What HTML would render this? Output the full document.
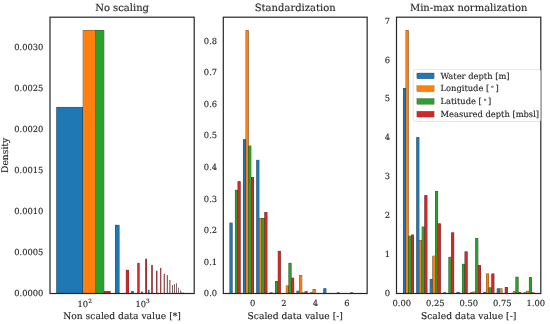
<!DOCTYPE html>
<html><head><meta charset="utf-8"><title>Scaling histograms</title>
<style>
html,body{margin:0;padding:0;background:#fff;}
body{width:550px;height:324px;overflow:hidden;}
svg{display:block;}
text{font-family:"DejaVu Serif","Liberation Serif",serif;fill:#262626;text-rendering:geometricPrecision;stroke:#262626;stroke-width:0.14px;}
</style></head><body>
<svg width="550" height="324" viewBox="0 0 550 324">
<rect width="550" height="324" fill="#fff"/>
<g shape-rendering="geometricPrecision">
<rect x="56.38" y="106.97" width="26.65" height="186.53" fill="#2a2a2a"/>
<rect x="56.62" y="107.22" width="26.15" height="186.28" fill="#1f77b4"/>
<rect x="114.99" y="224.88" width="4.42" height="68.62" fill="#2a2a2a"/>
<rect x="115.24" y="225.12" width="3.92" height="68.38" fill="#1f77b4"/>
<rect x="131.15" y="291.18" width="2.53" height="2.32" fill="#2a2a2a"/>
<rect x="131.40" y="291.43" width="2.03" height="2.07" fill="#1f77b4"/>
<rect x="140.92" y="291.68" width="1.82" height="1.82" fill="#2a2a2a"/>
<rect x="141.17" y="291.93" width="1.32" height="1.57" fill="#1f77b4"/>
<rect x="147.93" y="289.88" width="1.45" height="3.62" fill="#2a2a2a"/>
<rect x="148.18" y="290.12" width="0.95" height="3.38" fill="#1f77b4"/>
<rect x="153.41" y="292.88" width="1.22" height="0.62" fill="#2a2a2a"/>
<rect x="153.66" y="293.12" width="0.72" height="0.38" fill="#1f77b4"/>
<rect x="157.90" y="292.98" width="1.06" height="0.52" fill="#2a2a2a"/>
<rect x="158.15" y="293.23" width="0.56" height="0.27" fill="#1f77b4"/>
<rect x="82.78" y="30.18" width="13.20" height="263.32" fill="#2a2a2a"/>
<rect x="83.03" y="30.43" width="12.70" height="263.07" fill="#ff7f0e"/>
<rect x="95.72" y="30.18" width="8.50" height="263.32" fill="#2a2a2a"/>
<rect x="95.97" y="30.43" width="8.00" height="263.07" fill="#2ca02c"/>
<rect x="103.97" y="291.18" width="6.55" height="2.32" fill="#2a2a2a"/>
<rect x="104.22" y="291.43" width="6.05" height="2.07" fill="#d62728"/>
<rect x="125.86" y="269.88" width="3.03" height="23.62" fill="#2a2a2a"/>
<rect x="126.11" y="270.12" width="2.53" height="23.38" fill="#d62728"/>
<rect x="137.45" y="262.88" width="2.04" height="30.62" fill="#2a2a2a"/>
<rect x="137.70" y="263.12" width="1.54" height="30.38" fill="#d62728"/>
<rect x="145.35" y="258.77" width="1.57" height="34.73" fill="#2a2a2a"/>
<rect x="145.60" y="259.02" width="1.07" height="34.48" fill="#d62728"/>
<rect x="151.36" y="264.98" width="1.30" height="28.52" fill="#2a2a2a"/>
<rect x="151.61" y="265.23" width="0.80" height="28.27" fill="#d62728"/>
<rect x="156.20" y="270.68" width="1.12" height="22.82" fill="#2a2a2a"/>
<rect x="156.45" y="270.93" width="0.62" height="22.57" fill="#d62728"/>
<rect x="160.26" y="267.88" width="0.99" height="25.62" fill="#2a2a2a"/>
<rect x="160.51" y="268.12" width="0.49" height="25.38" fill="#d62728"/>
<rect x="163.75" y="273.77" width="0.89" height="19.73" fill="#2a2a2a"/>
<rect x="164.00" y="274.02" width="0.39" height="19.48" fill="#d62728"/>
<rect x="166.82" y="275.07" width="0.82" height="18.43" fill="#2a2a2a"/>
<rect x="167.07" y="275.32" width="0.32" height="18.18" fill="#d62728"/>
<rect x="169.55" y="279.98" width="0.76" height="13.52" fill="#2a2a2a"/>
<rect x="169.80" y="280.23" width="0.26" height="13.27" fill="#d62728"/>
<rect x="172.02" y="285.07" width="0.72" height="8.43" fill="#2a2a2a"/>
<rect x="172.27" y="285.32" width="0.22" height="8.18" fill="#d62728"/>
<rect x="174.26" y="284.18" width="0.68" height="9.32" fill="#2a2a2a"/>
<rect x="174.51" y="284.43" width="0.18" height="9.07" fill="#d62728"/>
<rect x="176.32" y="283.18" width="0.64" height="10.32" fill="#2a2a2a"/>
<rect x="176.57" y="283.43" width="0.14" height="10.07" fill="#d62728"/>
<rect x="178.23" y="287.68" width="0.61" height="5.82" fill="#2a2a2a"/>
<rect x="178.48" y="287.93" width="0.11" height="5.57" fill="#d62728"/>
<rect x="180.00" y="290.27" width="0.59" height="3.23" fill="#2a2a2a"/>
<rect x="180.25" y="290.52" width="0.09" height="2.98" fill="#d62728"/>
<rect x="181.65" y="291.88" width="0.57" height="1.62" fill="#2a2a2a"/>
<rect x="181.90" y="292.12" width="0.07" height="1.38" fill="#d62728"/>
<rect x="183.20" y="292.68" width="0.55" height="0.82" fill="#2a2a2a"/>
<rect x="184.67" y="292.98" width="0.53" height="0.52" fill="#2a2a2a"/>
<rect x="229.58" y="222.68" width="2.93" height="70.82" fill="#2a2a2a"/>
<rect x="229.83" y="222.93" width="2.43" height="70.57" fill="#1f77b4"/>
<rect x="242.98" y="139.38" width="2.93" height="154.12" fill="#2a2a2a"/>
<rect x="243.23" y="139.62" width="2.43" height="153.88" fill="#1f77b4"/>
<rect x="256.38" y="159.88" width="2.93" height="133.62" fill="#2a2a2a"/>
<rect x="256.62" y="160.12" width="2.43" height="133.38" fill="#1f77b4"/>
<rect x="269.77" y="292.48" width="2.93" height="1.02" fill="#2a2a2a"/>
<rect x="270.02" y="292.73" width="2.43" height="0.77" fill="#1f77b4"/>
<rect x="296.57" y="290.77" width="2.93" height="2.73" fill="#2a2a2a"/>
<rect x="296.82" y="291.02" width="2.43" height="2.48" fill="#1f77b4"/>
<rect x="309.97" y="292.48" width="2.93" height="1.02" fill="#2a2a2a"/>
<rect x="310.22" y="292.73" width="2.43" height="0.77" fill="#1f77b4"/>
<rect x="323.38" y="288.38" width="2.93" height="5.12" fill="#2a2a2a"/>
<rect x="323.62" y="288.62" width="2.43" height="4.88" fill="#1f77b4"/>
<rect x="336.77" y="292.48" width="2.93" height="1.02" fill="#2a2a2a"/>
<rect x="337.02" y="292.73" width="2.43" height="0.77" fill="#1f77b4"/>
<rect x="350.18" y="292.48" width="2.93" height="1.02" fill="#2a2a2a"/>
<rect x="350.43" y="292.73" width="2.43" height="0.77" fill="#1f77b4"/>
<rect x="245.66" y="30.18" width="2.93" height="263.32" fill="#2a2a2a"/>
<rect x="245.91" y="30.43" width="2.43" height="263.07" fill="#ff7f0e"/>
<rect x="259.06" y="217.97" width="2.93" height="75.53" fill="#2a2a2a"/>
<rect x="259.31" y="218.22" width="2.43" height="75.28" fill="#ff7f0e"/>
<rect x="285.86" y="285.57" width="2.93" height="7.93" fill="#2a2a2a"/>
<rect x="286.11" y="285.82" width="2.43" height="7.68" fill="#ff7f0e"/>
<rect x="299.25" y="274.98" width="2.93" height="18.52" fill="#2a2a2a"/>
<rect x="299.50" y="275.23" width="2.43" height="18.27" fill="#ff7f0e"/>
<rect x="312.65" y="289.07" width="2.93" height="4.43" fill="#2a2a2a"/>
<rect x="312.90" y="289.32" width="2.43" height="4.18" fill="#ff7f0e"/>
<rect x="234.94" y="189.88" width="2.93" height="103.62" fill="#2a2a2a"/>
<rect x="235.19" y="190.12" width="2.43" height="103.38" fill="#2ca02c"/>
<rect x="248.34" y="145.68" width="2.93" height="147.82" fill="#2a2a2a"/>
<rect x="248.59" y="145.93" width="2.43" height="147.57" fill="#2ca02c"/>
<rect x="261.74" y="217.97" width="2.93" height="75.53" fill="#2a2a2a"/>
<rect x="261.99" y="218.22" width="2.43" height="75.28" fill="#2ca02c"/>
<rect x="275.13" y="281.07" width="2.93" height="12.43" fill="#2a2a2a"/>
<rect x="275.38" y="281.32" width="2.43" height="12.18" fill="#2ca02c"/>
<rect x="288.54" y="262.88" width="2.93" height="30.62" fill="#2a2a2a"/>
<rect x="288.79" y="263.12" width="2.43" height="30.38" fill="#2ca02c"/>
<rect x="301.94" y="292.57" width="2.93" height="0.93" fill="#2a2a2a"/>
<rect x="302.19" y="292.82" width="2.43" height="0.68" fill="#2ca02c"/>
<rect x="237.62" y="181.28" width="2.93" height="112.22" fill="#2a2a2a"/>
<rect x="237.87" y="181.53" width="2.43" height="111.97" fill="#d62728"/>
<rect x="251.02" y="176.97" width="2.93" height="116.53" fill="#2a2a2a"/>
<rect x="251.27" y="177.22" width="2.43" height="116.28" fill="#d62728"/>
<rect x="264.42" y="212.07" width="2.93" height="81.43" fill="#2a2a2a"/>
<rect x="264.67" y="212.32" width="2.43" height="81.18" fill="#d62728"/>
<rect x="277.81" y="250.88" width="2.93" height="42.62" fill="#2a2a2a"/>
<rect x="278.06" y="251.12" width="2.43" height="42.38" fill="#d62728"/>
<rect x="291.22" y="277.77" width="2.93" height="15.73" fill="#2a2a2a"/>
<rect x="291.47" y="278.02" width="2.43" height="15.48" fill="#d62728"/>
<rect x="304.62" y="291.38" width="2.93" height="2.12" fill="#2a2a2a"/>
<rect x="304.87" y="291.62" width="2.43" height="1.88" fill="#d62728"/>
<rect x="402.97" y="87.97" width="2.93" height="205.53" fill="#2a2a2a"/>
<rect x="403.22" y="88.22" width="2.43" height="205.28" fill="#1f77b4"/>
<rect x="416.37" y="137.18" width="2.93" height="156.32" fill="#2a2a2a"/>
<rect x="416.62" y="137.43" width="2.43" height="156.07" fill="#1f77b4"/>
<rect x="429.77" y="279.07" width="2.93" height="14.43" fill="#2a2a2a"/>
<rect x="430.02" y="279.32" width="2.43" height="14.18" fill="#1f77b4"/>
<rect x="443.17" y="292.38" width="2.93" height="1.12" fill="#2a2a2a"/>
<rect x="443.42" y="292.62" width="2.43" height="0.88" fill="#1f77b4"/>
<rect x="456.57" y="291.88" width="2.93" height="1.62" fill="#2a2a2a"/>
<rect x="456.82" y="292.12" width="2.43" height="1.38" fill="#1f77b4"/>
<rect x="469.97" y="292.48" width="2.93" height="1.02" fill="#2a2a2a"/>
<rect x="470.22" y="292.73" width="2.43" height="0.77" fill="#1f77b4"/>
<rect x="483.37" y="291.88" width="2.93" height="1.62" fill="#2a2a2a"/>
<rect x="483.62" y="292.12" width="2.43" height="1.38" fill="#1f77b4"/>
<rect x="496.77" y="288.48" width="2.93" height="5.02" fill="#2a2a2a"/>
<rect x="497.02" y="288.73" width="2.43" height="4.77" fill="#1f77b4"/>
<rect x="523.58" y="292.48" width="2.93" height="1.02" fill="#2a2a2a"/>
<rect x="523.83" y="292.73" width="2.43" height="0.77" fill="#1f77b4"/>
<rect x="405.65" y="30.18" width="2.93" height="263.32" fill="#2a2a2a"/>
<rect x="405.90" y="30.43" width="2.43" height="263.07" fill="#ff7f0e"/>
<rect x="419.05" y="240.28" width="2.93" height="53.22" fill="#2a2a2a"/>
<rect x="419.30" y="240.53" width="2.43" height="52.97" fill="#ff7f0e"/>
<rect x="432.45" y="255.78" width="2.93" height="37.72" fill="#2a2a2a"/>
<rect x="432.70" y="256.02" width="2.43" height="37.47" fill="#ff7f0e"/>
<rect x="472.65" y="291.68" width="2.93" height="1.82" fill="#2a2a2a"/>
<rect x="472.90" y="291.93" width="2.43" height="1.57" fill="#ff7f0e"/>
<rect x="486.05" y="273.57" width="2.93" height="19.93" fill="#2a2a2a"/>
<rect x="486.30" y="273.82" width="2.43" height="19.68" fill="#ff7f0e"/>
<rect x="499.45" y="288.48" width="2.93" height="5.02" fill="#2a2a2a"/>
<rect x="499.70" y="288.73" width="2.43" height="4.77" fill="#ff7f0e"/>
<rect x="512.85" y="291.38" width="2.93" height="2.12" fill="#2a2a2a"/>
<rect x="513.10" y="291.62" width="2.43" height="1.88" fill="#ff7f0e"/>
<rect x="526.25" y="290.88" width="2.93" height="2.62" fill="#2a2a2a"/>
<rect x="526.50" y="291.12" width="2.43" height="2.38" fill="#ff7f0e"/>
<rect x="408.33" y="235.78" width="2.93" height="57.72" fill="#2a2a2a"/>
<rect x="408.58" y="236.03" width="2.43" height="57.47" fill="#2ca02c"/>
<rect x="421.73" y="226.68" width="2.93" height="66.82" fill="#2a2a2a"/>
<rect x="421.98" y="226.93" width="2.43" height="66.57" fill="#2ca02c"/>
<rect x="435.13" y="191.07" width="2.93" height="102.43" fill="#2a2a2a"/>
<rect x="435.38" y="191.32" width="2.43" height="102.18" fill="#2ca02c"/>
<rect x="448.53" y="256.88" width="2.93" height="36.62" fill="#2a2a2a"/>
<rect x="448.78" y="257.12" width="2.43" height="36.38" fill="#2ca02c"/>
<rect x="461.94" y="263.88" width="2.93" height="29.62" fill="#2a2a2a"/>
<rect x="462.19" y="264.12" width="2.43" height="29.38" fill="#2ca02c"/>
<rect x="475.33" y="237.97" width="2.93" height="55.53" fill="#2a2a2a"/>
<rect x="475.58" y="238.22" width="2.43" height="55.28" fill="#2ca02c"/>
<rect x="488.73" y="287.48" width="2.93" height="6.02" fill="#2a2a2a"/>
<rect x="488.98" y="287.73" width="2.43" height="5.77" fill="#2ca02c"/>
<rect x="515.53" y="276.77" width="2.93" height="16.73" fill="#2a2a2a"/>
<rect x="515.78" y="277.02" width="2.43" height="16.48" fill="#2ca02c"/>
<rect x="528.94" y="277.27" width="2.93" height="16.23" fill="#2a2a2a"/>
<rect x="529.19" y="277.52" width="2.43" height="15.98" fill="#2ca02c"/>
<rect x="411.01" y="234.68" width="2.93" height="58.82" fill="#2a2a2a"/>
<rect x="411.26" y="234.93" width="2.43" height="58.57" fill="#d62728"/>
<rect x="424.41" y="195.18" width="2.93" height="98.32" fill="#2a2a2a"/>
<rect x="424.66" y="195.43" width="2.43" height="98.07" fill="#d62728"/>
<rect x="437.81" y="223.47" width="2.93" height="70.03" fill="#2a2a2a"/>
<rect x="438.06" y="223.72" width="2.43" height="69.78" fill="#d62728"/>
<rect x="451.21" y="232.47" width="2.93" height="61.03" fill="#2a2a2a"/>
<rect x="451.46" y="232.72" width="2.43" height="60.78" fill="#d62728"/>
<rect x="464.62" y="251.47" width="2.93" height="42.03" fill="#2a2a2a"/>
<rect x="464.87" y="251.72" width="2.43" height="41.78" fill="#d62728"/>
<rect x="478.01" y="265.18" width="2.93" height="28.32" fill="#2a2a2a"/>
<rect x="478.26" y="265.43" width="2.43" height="28.07" fill="#d62728"/>
<rect x="491.41" y="273.57" width="2.93" height="19.93" fill="#2a2a2a"/>
<rect x="491.66" y="273.82" width="2.43" height="19.68" fill="#d62728"/>
<rect x="504.81" y="286.98" width="2.93" height="6.52" fill="#2a2a2a"/>
<rect x="505.06" y="287.23" width="2.43" height="6.27" fill="#d62728"/>
<rect x="518.21" y="292.18" width="2.93" height="1.32" fill="#2a2a2a"/>
<rect x="518.46" y="292.43" width="2.43" height="1.07" fill="#d62728"/>
<rect x="531.62" y="292.48" width="2.93" height="1.02" fill="#2a2a2a"/>
<rect x="531.87" y="292.73" width="2.43" height="0.77" fill="#d62728"/>
</g>
<g>
<rect x="50.00" y="17.20" width="144.20" height="276.30" fill="none" stroke="#262626" stroke-width="1.2"/>
<rect x="223.30" y="17.20" width="143.85" height="276.30" fill="none" stroke="#262626" stroke-width="1.2"/>
<rect x="396.50" y="17.20" width="144.30" height="276.30" fill="none" stroke="#262626" stroke-width="1.2"/>
</g>
<g>
<rect x="413.3" y="69.6" width="127.3" height="51.8" rx="1.6" fill="#fff" fill-opacity="0.8" stroke="#ccc" stroke-opacity="0.8" stroke-width="0.65"/>
<rect x="416.9" y="73.00" width="17.2" height="5.8" fill="#1f77b4" stroke="#2a2a2a" stroke-width="0.25"/>
<text x="440.5" y="78.70" font-size="8.33">Water depth [m]</text>
<rect x="416.9" y="85.75" width="17.2" height="5.8" fill="#ff7f0e" stroke="#2a2a2a" stroke-width="0.25"/>
<text x="440.5" y="91.45" font-size="8.33">Longitude [<tspan dx="1.05" dy="1.8" stroke-width="0">˚</tspan><tspan dx="0.95" dy="-1.8">]</tspan></text>
<rect x="416.9" y="98.50" width="17.2" height="5.8" fill="#2ca02c" stroke="#2a2a2a" stroke-width="0.25"/>
<text x="440.5" y="104.20" font-size="8.33">Latitude [<tspan dx="1.05" dy="1.8" stroke-width="0">˚</tspan><tspan dx="0.95" dy="-1.8">]</tspan></text>
<rect x="416.9" y="111.25" width="17.2" height="5.8" fill="#d62728" stroke="#2a2a2a" stroke-width="0.25"/>
<text x="440.5" y="116.95" font-size="8.33">Measured depth [mbsl]</text>
</g>
<g>
<text x="122.10" y="10.80" font-size="10.0" text-anchor="middle" >No scaling</text>
<text x="295.23" y="10.80" font-size="10.0" text-anchor="middle" >Standardization</text>
<text x="468.65" y="10.80" font-size="10.0" text-anchor="middle" >Min-max normalization</text>
<text x="122.10" y="318.80" font-size="9.17" text-anchor="middle" >Non scaled data value [*]</text>
<text x="295.23" y="318.80" font-size="9.17" text-anchor="middle" >Scaled data value [-]</text>
<text x="468.65" y="318.80" font-size="9.17" text-anchor="middle" >Scaled data value [-]</text>
<text transform="translate(8.2,155.4) rotate(-90)" font-size="9.17" text-anchor="middle">Density</text>
<text x="43.40" y="296.34" font-size="8.33" text-anchor="end" >0.0000</text>
<text x="43.40" y="255.29" font-size="8.33" text-anchor="end" >0.0005</text>
<text x="43.40" y="214.24" font-size="8.33" text-anchor="end" >0.0010</text>
<text x="43.40" y="173.19" font-size="8.33" text-anchor="end" >0.0015</text>
<text x="43.40" y="132.14" font-size="8.33" text-anchor="end" >0.0020</text>
<text x="43.40" y="91.09" font-size="8.33" text-anchor="end" >0.0025</text>
<text x="43.40" y="50.04" font-size="8.33" text-anchor="end" >0.0030</text>
<text x="217.10" y="296.34" font-size="8.33" text-anchor="end" >0.0</text>
<text x="217.10" y="264.76" font-size="8.33" text-anchor="end" >0.1</text>
<text x="217.10" y="233.18" font-size="8.33" text-anchor="end" >0.2</text>
<text x="217.10" y="201.60" font-size="8.33" text-anchor="end" >0.3</text>
<text x="217.10" y="170.02" font-size="8.33" text-anchor="end" >0.4</text>
<text x="217.10" y="138.44" font-size="8.33" text-anchor="end" >0.5</text>
<text x="217.10" y="106.86" font-size="8.33" text-anchor="end" >0.6</text>
<text x="217.10" y="75.28" font-size="8.33" text-anchor="end" >0.7</text>
<text x="217.10" y="43.70" font-size="8.33" text-anchor="end" >0.8</text>
<text x="390.10" y="296.34" font-size="8.33" text-anchor="end" >0</text>
<text x="390.10" y="257.37" font-size="8.33" text-anchor="end" >1</text>
<text x="390.10" y="218.40" font-size="8.33" text-anchor="end" >2</text>
<text x="390.10" y="179.43" font-size="8.33" text-anchor="end" >3</text>
<text x="390.10" y="140.46" font-size="8.33" text-anchor="end" >4</text>
<text x="390.10" y="101.49" font-size="8.33" text-anchor="end" >5</text>
<text x="390.10" y="62.52" font-size="8.33" text-anchor="end" >6</text>
<text x="390.10" y="23.55" font-size="8.33" text-anchor="end" >7</text>
<text x="84.70" y="306.50" font-size="8.33" text-anchor="middle">10<tspan font-size="5.83" dy="-3.2">2</tspan></text>
<text x="142.60" y="306.50" font-size="8.33" text-anchor="middle">10<tspan font-size="5.83" dy="-3.2">3</tspan></text>
<text x="252.60" y="305.70" font-size="8.33" text-anchor="middle" >0</text>
<text x="284.00" y="305.70" font-size="8.33" text-anchor="middle" >2</text>
<text x="315.40" y="305.70" font-size="8.33" text-anchor="middle" >4</text>
<text x="346.80" y="305.70" font-size="8.33" text-anchor="middle" >6</text>
<text x="401.80" y="305.70" font-size="8.33" text-anchor="middle" >0.00</text>
<text x="435.30" y="305.70" font-size="8.33" text-anchor="middle" >0.25</text>
<text x="468.80" y="305.70" font-size="8.33" text-anchor="middle" >0.50</text>
<text x="502.30" y="305.70" font-size="8.33" text-anchor="middle" >0.75</text>
<text x="535.80" y="305.70" font-size="8.33" text-anchor="middle" >1.00</text>
</g>
</svg>
</body></html>
